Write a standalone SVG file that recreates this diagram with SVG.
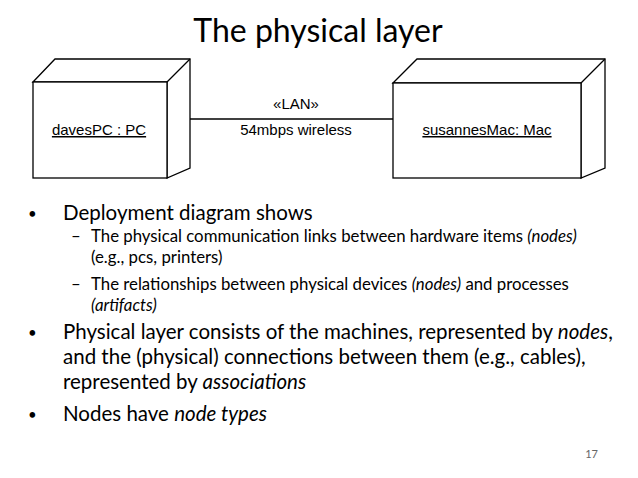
<svg xmlns="http://www.w3.org/2000/svg" width="638" height="478" viewBox="0 0 638 478">
<style>
.box{fill:#fff;stroke:#000;stroke-width:1.3;stroke-linejoin:miter}
.lbl{font-family:"Liberation Sans",Arial,sans-serif;font-size:15px;fill:#000}
.u{text-decoration:underline}
.t{font-family:Lato,"Open Sans",sans-serif;fill:#000}
.b1{font-size:20.5px}
.b2{font-size:16.8px}
.dot{font-size:15px}
.conn{stroke:#000;stroke-width:1.3;fill:none}
</style>
<rect width="638" height="478" fill="#fff"/>
<text class="t" x="318" y="42" font-size="32" text-anchor="middle">The physical layer</text>
<g id="connectors">
<line class="conn" x1="190" y1="119" x2="393" y2="119"/>
<text class="lbl" x="296" y="109" text-anchor="middle">«LAN»</text>
<text class="lbl" x="296" y="135" text-anchor="middle">54mbps wireless</text>
</g>
<g id="davesPC">
<polygon class="box" points="33,82 55,59 190,59 190,168 167,178 167,82"/>
<line class="conn" x1="167" y1="82" x2="190" y2="59"/>
<rect class="box" x="33" y="82" width="134" height="96"/>
<text class="lbl u" x="99" y="135" text-anchor="middle">davesPC : PC</text>
</g>
<g id="susannesMac">
<polygon class="box" points="393,83 417,59 605,59 605,168 581,178 581,83"/>
<line class="conn" x1="581" y1="83" x2="605" y2="59"/>
<rect class="box" x="393" y="83" width="188" height="95"/>
<text class="lbl u" x="487" y="135" text-anchor="middle">susannesMac: Mac</text>
</g>
<g class="t">
<text class="dot" x="28" y="219">•</text>
<text class="b1" x="63" y="220">Deployment diagram shows</text>
<text class="b2" x="71" y="242">–</text>
<text class="b2" x="91" y="242">The physical communication links between hardware items <tspan font-style="italic">(nodes)</tspan></text>
<text class="b2" x="91" y="263">(e.g., pcs, printers)</text>
<text class="b2" x="71" y="290">–</text>
<text class="b2" x="91" y="290">The relationships between physical devices <tspan font-style="italic">(nodes)</tspan> and processes</text>
<text class="b2" x="91" y="311" font-style="italic">(artifacts)</text>
<text class="dot" x="28" y="338">•</text>
<text class="b1" x="63" y="339">Physical layer consists of the machines, represented by <tspan font-style="italic">nodes</tspan>,</text>
<text class="b1" x="63" y="364">and the (physical) connections between them (e.g., cables),</text>
<text class="b1" x="63" y="389">represented by <tspan font-style="italic">associations</tspan></text>
<text class="dot" x="28" y="420">•</text>
<text class="b1" x="63" y="421">Nodes have <tspan font-style="italic">node types</tspan></text>
<text x="598" y="458" font-size="11" text-anchor="end" fill="#666">17</text>
</g>
</svg>
